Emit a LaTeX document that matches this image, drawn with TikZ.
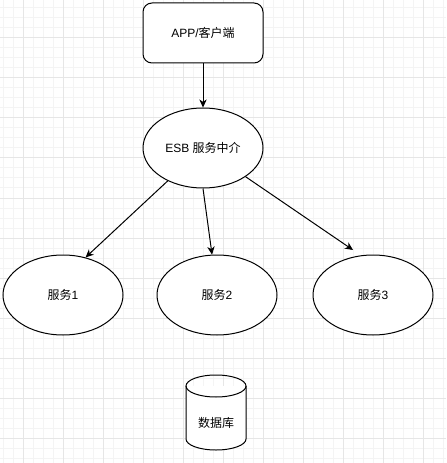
\documentclass[tikz,border=0pt]{standalone}
\usepackage{fontspec}
\setmainfont{Liberation Sans}
\newfontfamily\cjk{Noto Sans CJK SC}
\usetikzlibrary{shapes.geometric,arrows.meta}
\definecolor{gridminor}{HTML}{F4F4F4}
\definecolor{gridmajor}{HTML}{E6E6E6}
\tikzset{
  every node/.style={font=\fontsize{9}{11}\selectfont, text=black},
  line/.style={draw=black, line width=0.75pt},
  boxnode/.style={line, rounded corners=6.75pt, minimum width=90pt, minimum height=45pt, inner sep=0pt, fill=white},
  ellnode/.style={line, ellipse, minimum width=90pt, minimum height=60pt, inner sep=0pt, fill=white},
  arr/.style={line, -{Stealth[length=6pt,width=5.5pt,inset=1.8pt]}},
  minorgrid/.style={draw=gridminor, line width=0.75pt},
  majorgrid/.style={draw=gridmajor, line width=0.75pt},
  cyl/.style={line, fill=white}
}
\begin{document}
\begin{tikzpicture}[x=0.75pt, y=-0.75pt]
\useasboundingbox (0,0) rectangle (446,463);
\fill[white] (0,0) rectangle (446,463);
% grid
\foreach \x in {3,13,...,443} \draw[minorgrid] (\x,0) -- (\x,463);
\foreach \y in {8,18,...,458} \draw[minorgrid] (0,\y) -- (446,\y);
\foreach \x in {23,63,...,423} \draw[majorgrid] (\x,0) -- (\x,463);
\foreach \y in {38,78,...,438} \draw[majorgrid] (0,\y) -- (446,\y);

% nodes
\node[boxnode] (app) at (203,33) {APP/{\cjk 客户端}};
\node[ellnode] (esb) at (203,148) {ESB {\cjk 服务中介}};
\node[ellnode] (s1) at (63,295) {{\cjk 服务}1};
\node[ellnode] (s2) at (217,295) {{\cjk 服务}2};
\node[ellnode] (s3) at (373,295) {{\cjk 服务}3};
\coordinate (s3tip) at (353,250);

% cylinder
\fill[white] (186,386) -- (186,439) arc[start angle=180,end angle=360,x radius=22.5pt,y radius=8.25pt] -- (246,386) -- cycle;
\draw[line] (186,386) -- (186,439) arc[start angle=180,end angle=360,x radius=22.5pt,y radius=8.25pt] -- (246,386);
\draw[line] (216,386) ellipse[x radius=22.5pt, y radius=8.25pt];
\node (db) at (216,423) {\cjk 数据库};

% connectors
\draw[arr] (app) -- (esb);
\draw[arr] (esb.-137) -- (s1.59);
\draw[arr] (esb.south) -- (s2.97);
\draw[arr] (esb.-34) -- (s3tip);
\end{tikzpicture}
\end{document}
